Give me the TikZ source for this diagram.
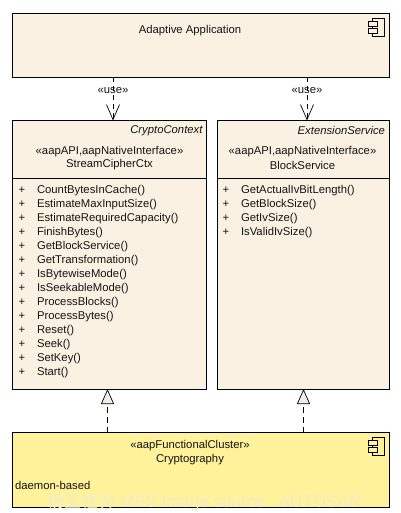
\documentclass[tikz,border=0pt]{standalone}
\usepackage{fontspec}
\setmainfont{Liberation Sans}
\newfontfamily\cjkwm{Noto Sans CJK SC}
\usetikzlibrary{arrows.meta,calc}
\definecolor{boxbeige}{HTML}{FBF1E3}
\definecolor{boxyellow}{HTML}{FFF29B}
\definecolor{tipfill}{HTML}{F0EEE6}
\definecolor{wmark}{HTML}{F2EBC8}
\definecolor{inktext}{HTML}{141414}
\tikzset{
  x=1pt,y=-1pt,
  every node/.style={font=\fontsize{11.3}{14}\selectfont,text=inktext,inner sep=0pt,outer sep=0pt},
  umlbox/.style={draw=black,line width=0.9pt,anchor=north west,fill=#1},
  umllabel/.style={align=center,anchor=center},
  italabel/.style={anchor=east,font=\fontsize{11.3}{14}\selectfont\itshape},
  oplist/.style={anchor=north west,align=left,font=\fontsize{11.3}{14}\selectfont},
  divider/.style={draw=black,line width=0.9pt},
  use/.style={draw=black,line width=0.7pt,dash pattern=on 5pt off 4pt,-{Straight Barb[length=15pt,width=13pt,line width=0.7pt]}},
  real/.style={draw=black,line width=0.8pt,dash pattern=on 6pt off 4pt,-{Triangle[length=15pt,width=13pt,fill=tipfill,line width=0.7pt]}},
  iconbody/.style={draw=black,line width=0.7pt,fill=#1},
}
\newcommand{\compicon}[3]{%
  \path[iconbody=#3] (#1+3.5,#2) rectangle (#1+16,#2+17.5);
  \path[iconbody=#3] (#1,#2+2.5) rectangle (#1+9,#2+8);
  \path[iconbody=#3] (#1,#2+9.5) rectangle (#1+9,#2+15);
}
\begin{document}
\begin{tikzpicture}
\useasboundingbox (0,0) rectangle (400,513);
\fill[white] (0,0) rectangle (400,513);
% boxes
\node[umlbox=boxbeige,minimum width=377pt,minimum height=64pt] (app) at (12.5,13.5) {};
\node[umlbox=boxbeige,minimum width=193.5pt,minimum height=268.5pt] (ctx) at (12.5,120.5) {};
\node[umlbox=boxbeige,minimum width=172pt,minimum height=268.5pt] (blk) at (217.5,120.5) {};
\node[umlbox=boxyellow,minimum width=377pt,minimum height=75pt] (cry) at (12.5,432.5) {};
% dividers
\coordinate (d1) at (0,178);
\draw[divider] (ctx.west |- d1) -- (ctx.east |- d1);
\draw[divider] (blk.west |- d1) -- (blk.east |- d1);
% icons
\compicon{368.5}{18.5}{boxbeige}
\compicon{368.5}{437.5}{boxyellow}
% labels
\node[umllabel] (appl) at (190,30.5) {Adaptive Application};
\node[italabel] (ctxi) at (202.5,130.5) {CryptoContext};
\node[italabel] (blki) at (385,130.5) {ExtensionService};
\node[umllabel] (ctxs) at (109.5,151.5) {«aapAPI,aapNativeInterface»};
\node[umllabel] (ctxn) at (109.5,165) {StreamCipherCtx};
\node[umllabel] (blks) at (302.5,151.5) {«aapAPI,aapNativeInterface»};
\node[umllabel] (blkn) at (302.5,165) {BlockService};
\node[oplist] (ctxp) at (18.5,183.2) {\strut+\\+\\+\\+\\+\\+\\+\\+\\+\\+\\+\\+\\+\\+};
\node[oplist] (ctxo) at (37,183.2) {\strut CountBytesInCache()\\EstimateMaxInputSize()\\EstimateRequiredCapacity()\\FinishBytes()\\GetBlockService()\\GetTransformation()\\IsBytewiseMode()\\IsSeekableMode()\\ProcessBlocks()\\ProcessBytes()\\Reset()\\Seek()\\SetKey()\\Start()};
\node[oplist] (blkp) at (222.5,183.2) {\strut+\\+\\+\\+};
\node[oplist] (blko) at (241,183.2) {\strut GetActualIvBitLength()\\GetBlockSize()\\GetIvSize()\\IsValidIvSize()};
\node[umllabel] (cryS) at (190,446) {«aapFunctionalCluster»};
\node[umllabel] (cryN) at (190,460) {Cryptography};
\node[anchor=west] (cryd) at (15,485) {daemon-based};
% connectors
\coordinate (u1) at (113,100);
\coordinate (u2) at (307,100);
\coordinate (r1) at (107.5,410);
\coordinate (r2) at (303.5,410);
\draw[use] (app.south -| u1) -- (ctx.north -| u1);
\draw[use] (app.south -| u2) -- (blk.north -| u2);
\draw[real] (cry.north -| r1) -- (ctx.south -| r1);
\draw[real] (cry.north -| r2) -- (blk.south -| r2);
\node[umllabel] (use1) at (113,91) {«use»};
\node[umllabel] (use2) at (307,91) {«use»};
% watermark
\node[anchor=center,text=wmark,font=\fontsize{17}{19}\selectfont] (wm) at (204,502) {{\cjkwm 杨玉柱}@ MES Image source:\ \ AUTOSAR};
\end{tikzpicture}
\end{document}
